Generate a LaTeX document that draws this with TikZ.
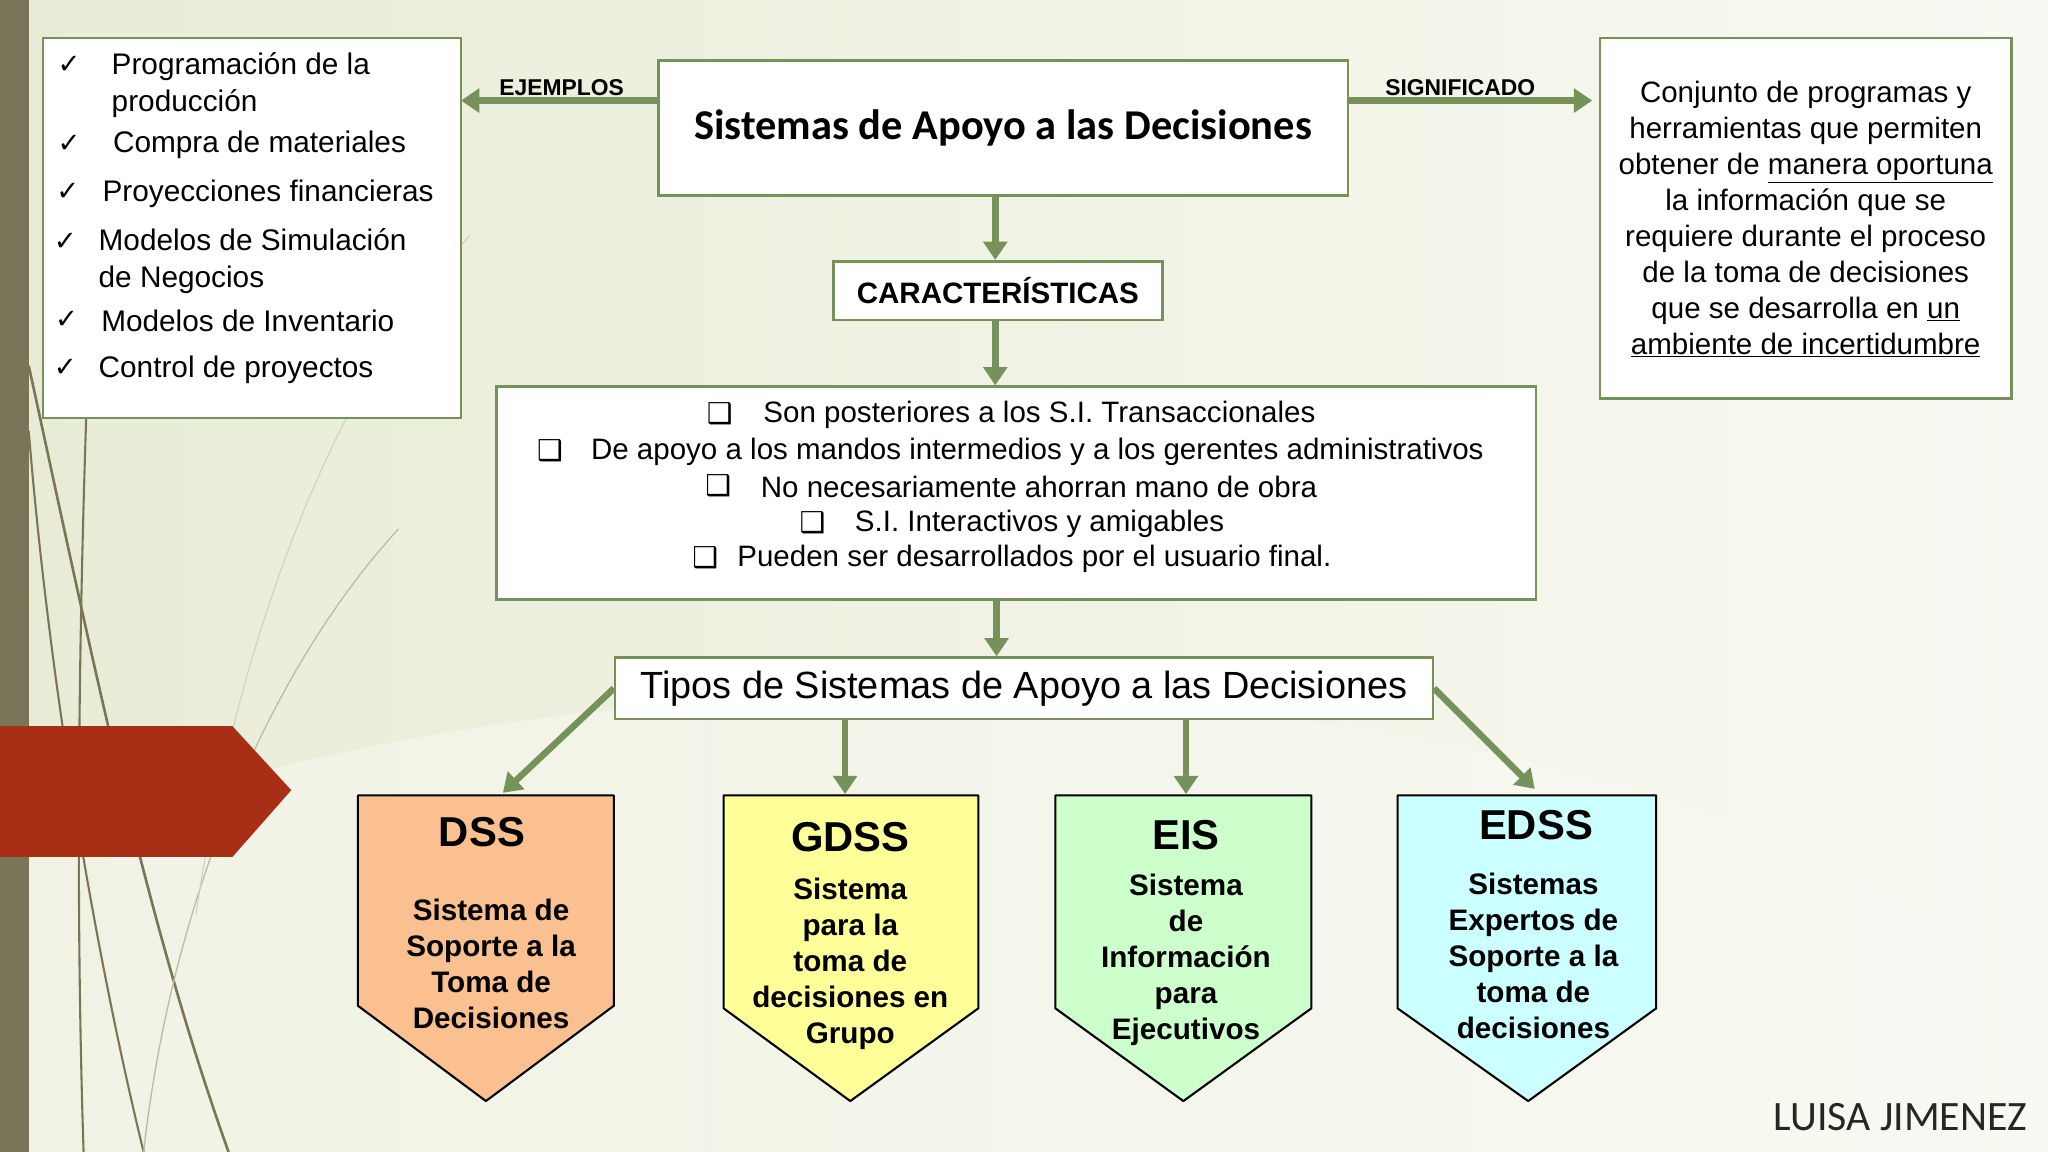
\documentclass[tikz,border=0pt]{standalone}
\usepackage{fontspec}
\setmainfont{Liberation Sans}
\newfontfamily\sym{DejaVu Sans}
\newfontfamily\calfont{Carlito}
\usetikzlibrary{arrows.meta,shadows}
\definecolor{og}{RGB}{118,146,90}
\definecolor{bar}{RGB}{122,117,86}
\definecolor{redc}{RGB}{168,46,22}
\definecolor{bgA}{RGB}{232,236,214}
\definecolor{bgB}{RGB}{248,249,242}
\definecolor{fDSS}{RGB}{250,192,144}
\definecolor{fGDSS}{RGB}{255,255,153}
\definecolor{fEIS}{RGB}{204,255,204}
\definecolor{fEDSS}{RGB}{204,255,255}
\tikzset{
 box/.style={draw=og,line width=2pt,fill=white},
 conn/.style={draw=og,line width=5pt,-{Triangle[width=18pt,length=14pt]}},
 pent/.style={draw=black,line width=1.6pt,line join=round},
 body/.style={font=\fontsize{22.7}{27.5}\selectfont\bfseries,align=center,text=black},
 ttl/.style={font=\fontsize{32}{34}\selectfont\bfseries},
 itm/.style={anchor=west,font=\fontsize{22.8}{28}\selectfont,align=left},
 ck/.style={font=\sym\fontsize{21}{22}\selectfont},
 cl/.style={anchor=west,font=\fontsize{22.6}{24}\selectfont},
 sq/.style={font=\sym\bfseries\fontsize{22}{22}\selectfont},
 lbl/.style={font=\fontsize{17.5}{18}\selectfont\bfseries}
}
\begin{document}
\begin{tikzpicture}[x=1pt,y=-1pt]
\useasboundingbox (0,0) rectangle (1568,882);
\shade[left color=bgA,right color=bgB] (0,0) rectangle (1568,882);
\fill[bgB,opacity=0.5] (700,882) ellipse (900 and 350);
% decorative lines
\draw[bar,line width=2pt] (22,280) .. controls (70,500) and (110,700) .. (175,882);
\draw[bar,line width=1.6pt] (22,330) .. controls (40,550) and (80,760) .. (110,882);
\draw[bar,line width=1.6pt] (66,320) .. controls (60,500) and (58,700) .. (64,882);
\draw[bar!50,line width=1pt] (305,405) .. controls (200,520) and (130,700) .. (110,882);
\draw[bar!35,line width=0.8pt] (360,180) .. controls (250,300) and (180,500) .. (150,700);
\fill[bar] (0,0) rectangle (22,882);
\fill[redc] (0,556) -- (178,556) -- (223,605) -- (178,656) -- (0,656) -- cycle;
% examples box
\node[box,minimum width=320pt,minimum height=291pt] (ej) at (193,174.5) {};
\node[ck] (c1) at (53,50) {✓}; \node[itm] (t1) at (82,65) {Programación de la\\producción};
\node[ck] (c2) at (53,110) {✓}; \node[itm] (t2) at (83,111) {Compra de materiales};
\node[ck] (c3) at (52,147) {✓}; \node[itm] (t3) at (75,148) {Proyecciones financieras};
\node[ck] (c4) at (50,185) {✓}; \node[itm] (t4) at (72,200) {Modelos de Simulación\\de Negocios};
\node[ck] (c5) at (51,245) {✓}; \node[itm] (t5) at (74,246) {Modelos de Inventario};
\node[ck] (c6) at (50,282) {✓}; \node[itm] (t6) at (72,283) {Control de proyectos};
% title
\node[box,minimum width=528pt,minimum height=103pt,font=\calfont\fontsize{32.5}{34}\selectfont\bfseries] (sad) at (768,98) {Sistemas de Apoyo a las Decisiones};
% definition box
\node[box,minimum width=315pt,minimum height=276pt] (def) at (1382.5,167) {};
\node[font=\fontsize{22.6}{27.5}\selectfont,align=center] (dt) at (1382.5,168) {Conjunto de programas y\\herramientas que permiten\\obtener de \underline{manera oportuna}\\la información que se\\requiere durante el proceso\\de la toma de decisiones\\que se desarrolla en \underline{un}\\\underline{ambiente de incertidumbre}};
\coordinate (ejA) at (sad.west |- 0,77); \coordinate (ejB) at (353,77);
\draw[conn] (ejA) -- (ejB);
\node[lbl] (ejl) at (430,67) {EJEMPLOS};
\coordinate (sgA) at (sad.east |- 0,77); \coordinate (sgB) at (1219,77);
\draw[conn] (sgA) -- (sgB);
\node[lbl] (sgl) at (1118,67) {SIGNIFICADO};
% caracteristicas
\node[box,minimum width=252pt,minimum height=45pt,font=\fontsize{22.6}{23}\selectfont\bfseries] (car) at (764,222.5) {CARACTERÍSTICAS};
\draw[conn] (762,149) -- (car.north -| 762,0);
\node[box,minimum width=796pt,minimum height=163pt] (cb) at (778,377.5) {};
\draw[conn] (car.south -| 762,0) -- (cb.north -| 762,0);
\node[sq] (s1) at (551,317) {❑}; \node[cl] (l1) at (581,318) {Son posteriores a los S.I. Transaccionales};
\node[sq] (s2) at (421,345) {❑}; \node[cl] (l2) at (449,346) {De apoyo a los mandos intermedios y a los gerentes administrativos};
\node[sq] (s3) at (550,372) {❑}; \node[cl] (l3) at (579,373) {No necesariamente ahorran mano de obra};
\node[sq] (s4) at (622,400) {❑}; \node[cl] (l4) at (651,401) {S.I. Interactivos y amigables};
\node[sq] (s5) at (540,427) {❑}; \node[cl] (l5) at (561,428) {Pueden ser desarrollados por el usuario final.};
% tipos
\node[box,minimum width=626pt,minimum height=47pt,font=\fontsize{29}{30}\selectfont] (tip) at (784,527) {Tipos de Sistemas de Apoyo a las Decisiones};
\draw[conn] (cb.south -| 763,0) -- (tip.north -| 763,0);
% pentagons
\draw[pent,fill=fDSS] (274,609) -- (470,609) -- (470,770) -- (372,843) -- (274,770) -- cycle;
\draw[pent,fill=fGDSS] (554,609) -- (749,609) -- (749,772) -- (651,843) -- (554,772) -- cycle;
\draw[pent,fill=fEIS] (808,609) -- (1004,609) -- (1004,772) -- (906,843) -- (808,772) -- cycle;
\draw[pent,fill=fEDSS] (1070,609) -- (1268,609) -- (1268,772) -- (1170,843) -- (1070,772) -- cycle;
\coordinate (pD) at (385,607); \coordinate (pG) at (647,608); \coordinate (pE) at (908,608); \coordinate (pX) at (1175,604);
\draw[conn] (tip.west) -- (pD);
\draw[conn] (tip.south -| pG) -- (pG);
\draw[conn] (tip.south -| pE) -- (pE);
\draw[conn] (tip.east) -- (pX);
\node[ttl] (nD) at (369,637) {DSS};
\node[ttl] (nG) at (651,641) {GDSS};
\node[ttl] (nE) at (908,639) {EIS};
\node[ttl] (nX) at (1176,632) {EDSS};
\node[body] (bD) at (376,738) {Sistema de\\Soporte a la\\Toma de\\Decisiones};
\node[body] (bG) at (651,738) {Sistema\\para la\\toma de\\decisiones en\\Grupo};
\node[body] (bE) at (908,735) {Sistema\\de\\Información\\para\\Ejecutivos};
\node[body] (bX) at (1174,732) {Sistemas\\Expertos de\\Soporte a la\\toma de\\decisiones};
\node[font=\calfont\fontsize{32}{34}\selectfont,text=black!85] (au) at (1455,855) {LUISA JIMENEZ};
\end{tikzpicture}
\end{document}
